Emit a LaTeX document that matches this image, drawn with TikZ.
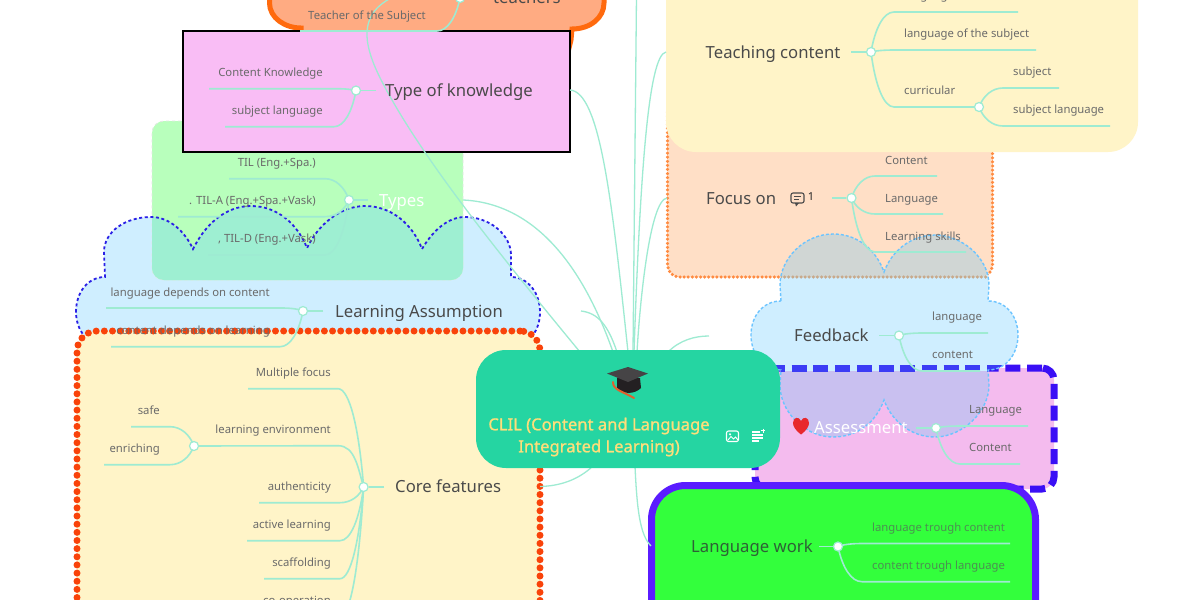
\documentclass[tikz,border=0pt]{standalone}
\usepackage{fontspec}
\setmainfont{Noto Sans}
\newfontfamily\rootf[FakeBold=1]{Noto Sans}
\usetikzlibrary{calc}
\pgfdeclarelayer{dots}
\pgfsetlayers{main,dots}
\definecolor{teal}{HTML}{9EEBD2}
\definecolor{rootc}{HTML}{25D5A2}
\definecolor{roott}{HTML}{FFDE7A}
\definecolor{cream}{HTML}{FFF4C8}
\definecolor{pinkk}{HTML}{F9BDF5}
\definecolor{pinka}{HTML}{F4BBEE}
\definecolor{peach}{HTML}{FFDFC6}
\definecolor{cloudb}{HTML}{CFEEFF}
\definecolor{gtitle}{HTML}{4A4A4A}
\definecolor{gitem}{HTML}{6A6A6A}
\definecolor{tfill}{HTML}{FFAB82}
\definecolor{tedge}{HTML}{FF6A0E}
\definecolor{tygreen}{HTML}{B8FFBC}
\definecolor{tyedge}{HTML}{E2E8E2}
\definecolor{tyover}{HTML}{9EEFD2}
\definecolor{clblue}{HTML}{2A1FE6}
\definecolor{corered}{HTML}{F9430A}
\definecolor{focusedge}{HTML}{FF8C42}
\definecolor{assedge}{HTML}{3A0FF5}
\definecolor{fover}{HTML}{D0D6D4}
\definecolor{fedgeover}{HTML}{C8AA8C}
\definecolor{aover}{HTML}{C9C0F0}
\definecolor{aedgeover}{HTML}{3C3CF5}
\definecolor{fbedge}{HTML}{6CC4FF}
\definecolor{lwgreen}{HTML}{33FF3C}
\definecolor{lwedge}{HTML}{5A1CFF}
\definecolor{lwitem}{HTML}{4C8F52}
\definecolor{lwtitle}{HTML}{2E6136}
\definecolor{heartc}{HTML}{E8282D}
\definecolor{hatd}{HTML}{232022}
\definecolor{hatt}{HTML}{464446}
\definecolor{hato}{HTML}{E15F2D}
\tikzset{
  conn/.style={draw=teal,line width=1.3pt},
  branch/.style={draw=teal,line width=1.6pt},
  dotc/.style={circle,draw=teal,fill=white,line width=1.2pt,inner sep=0pt,minimum size=9pt},
  title/.style={font=\fontsize{16.7}{20}\selectfont,text=gtitle,inner sep=0pt,anchor=west,text height=16pt,text depth=4pt},
  item/.style={font=\fontsize{11.3}{14}\selectfont,text=gitem,inner sep=0pt,text height=11pt,text depth=3pt},
  iteml/.style={item,anchor=west},
  itemr/.style={item,anchor=east},
  box/.style={rectangle,inner sep=0pt,outer sep=0pt,anchor=north west},
}
% a white junction circle, kept above the branches
\newcommand\junction[3]{\begin{pgfonlayer}{dots}\node[dotc] (#1) at (#2,#3) {};\end{pgfonlayer}}
% #1 circle node, #2 x where the curve ends, #3 y, #4 x of the free end
\newcommand\branchto[4]{%
  \coordinate (bB) at (#2,#3);
  \coordinate (eE) at (#4,#3);
  \coordinate (pa) at ($(#1)!.18!(bB)$);
  \coordinate (pb) at ($(#1)!.6!(bB)$);
  \coordinate (pc) at ($(#1)!.55!(bB)$);
  \draw[branch] (#1.center) .. controls (pa |- pb) and (pc |- bB) .. (bB) -- (eE);
}
\def\cloudL{(76,312) .. controls (76,292) and (88,277) .. (105,277) -- (104,252)
  .. controls (104,232) and (125,217) .. (151,217)
  .. controls (170,217) and (185,232) .. (193,249)
  .. controls (205,225) and (225,206) .. (251,206)
  .. controls (278,206) and (298,225) .. (307,248)
  .. controls (318,225) and (340,206) .. (365,206)
  .. controls (392,206) and (413,225) .. (422,249)
  .. controls (432,232) and (447,217) .. (465,217)
  .. controls (490,217) and (511,235) .. (511,255) -- (511,277)
  .. controls (528,277) and (540,293) .. (540,312)
  .. controls (540,330) and (530,345) .. (511,346) -- (511,380) -- (105,380) -- (105,346)
  .. controls (88,346) and (76,330) .. (76,312) -- cycle}
\def\cloudF{(781,301) -- (780,285)
  .. controls (780,258) and (805,234) .. (833,234)
  .. controls (858,234) and (876,250) .. (884,272)
  .. controls (892,250) and (912,235) .. (935,235)
  .. controls (962,235) and (989,258) .. (989,285) -- (988,301)
  .. controls (1006,301) and (1018,316) .. (1018,335)
  .. controls (1018,354) and (1006,370) .. (988,370) -- (989,385)
  .. controls (989,412) and (962,437) .. (935,437)
  .. controls (912,437) and (892,422) .. (884,400)
  .. controls (876,422) and (858,437) .. (833,437)
  .. controls (805,437) and (780,412) .. (780,385) -- (781,370)
  .. controls (763,370) and (751,354) .. (751,335)
  .. controls (751,316) and (763,301) .. (781,301) -- cycle}
\begin{document}
\begin{tikzpicture}[x=1pt,y=-1pt]
\useasboundingbox (0,0) rectangle (1200,600);
\clip (0,0) rectangle (1200,600);
\fill[white] (0,0) rectangle (1200,600);

% ---- teachers cloud
\path[fill=tfill,draw=tedge,line width=5pt]
  (269.5,-10) -- (269.5,3) .. controls (269.5,18) and (285,28) .. (301,28) -- (301,60) -- (566,60) -- (571,40) -- (572,29)
  .. controls (590,29) and (604,18) .. (604,3) -- (604,-10) -- cycle;

% ---- learning assumption cloud and types box
\path[fill=cloudb] \cloudL;
\node[box,fill=tygreen,minimum width=311pt,minimum height=159pt,rounded corners=12pt,draw=tyedge,dashed,line width=.9pt] (typesbox) at (152,121) {};
\begin{scope}
  \clip \cloudL;
  \fill[tyover,rounded corners=12pt] (152,121) rectangle (463,280);
\end{scope}
\path[draw=clblue,line width=1.8pt,dash pattern=on 3pt off 2.6pt] \cloudL;

% ---- core features
\node[box,fill=cream,minimum width=463pt,minimum height=310pt,rounded corners=20pt,draw=corered,line width=7pt,line cap=round,dash pattern=on 0pt off 8.15pt] (corebox) at (77,331) {};

% ---- type of knowledge
\node[box,fill=pinkk,minimum width=387pt,minimum height=121pt,draw=black,line width=2pt] (kbox) at (183,31) {};

% ---- focus on, assessment, feedback
\node[box,fill=peach,minimum width=325pt,minimum height=177pt,rounded corners=12pt,draw=focusedge,line width=3.5pt,line cap=round,dash pattern=on 0pt off 4.1pt] (focusbox) at (667.5,100) {};
\node[box,fill=pinka,minimum width=299pt,minimum height=121pt,rounded corners=12pt,draw=assedge,line width=7pt,dash pattern=on 15pt off 6.7pt] (assessbox) at (755,368) {};
\path[fill=cloudb] \cloudF;
\begin{scope}
  \clip \cloudF;
  \fill[fover,rounded corners=12pt] (667.5,100) rectangle (992.5,277);
  \draw[fedgeover,line width=3.5pt,line cap=round,dash pattern=on 0pt off 4.1pt] (760,277) -- (1000,277);
  \fill[aover] (755,371) rectangle (1054,489);
  \draw[aedgeover,line width=7pt,dash pattern=on 15pt off 6.7pt] (770,368) -- (1040,368);
\end{scope}
\path[draw=fbedge,line width=1.4pt,dash pattern=on 3pt off 2pt] \cloudF;

% ---- teaching content
\node[box,fill=cream,minimum width=472pt,minimum height=200pt,rounded corners=30pt] (teachbox) at (666,-48) {};

% ---- language work
\node[box,fill=lwgreen,minimum width=384pt,minimum height=170pt,rounded corners=34pt,draw=lwedge,line width=7pt] (langbox) at (651.5,485.5) {};

% ---- root connectors
\coordinate (r1) at (580,352);
\coordinate (r2) at (613,352);
\coordinate (r3) at (617,352);
\coordinate (r4) at (628,352);
\coordinate (r5) at (633,352);
\coordinate (r6) at (634,352);
\coordinate (r7) at (637,352);
\coordinate (r8) at (668,352);
\coordinate (r9) at (593,466);
\coordinate (r10) at (635,466);
\coordinate (tEnd) at (393,-3);
\coordinate (topEnd) at (636.5,-5);
\coordinate (stubL) at (581,311);
\coordinate (stubF) at (709,336);
\coordinate (endT) at (666,52);
\coordinate (endF) at (667,198);
\coordinate (endC) at (540,486.5);
\coordinate (endW) at (651,546);
\coordinate (endK) at (570,90);
\coordinate (endY) at (463,200);
\draw[conn] (r1) .. controls (500,255) and (432,170) .. (392,100) .. controls (368,58) and (350,18) .. (tEnd);
\draw[conn] (endK) .. controls (600,92) and (612,200) .. (r4);
\draw[conn] (endY) .. controls (530,203) and (580,258) .. (r2);
\draw[conn] (stubL) .. controls (598,313) and (608,325) .. (r3);
\draw[conn] (topEnd) -- (r5);
\draw[conn] (endT) .. controls (648,55) and (640,180) .. (r6);
\draw[conn] (endF) .. controls (650,200) and (640,300) .. (r7);
\draw[conn] (stubF) .. controls (695,336) and (680,340) .. (r8);
\draw[conn] (endC) .. controls (560,486) and (578,480) .. (r9);
\draw[conn] (r10) .. controls (637,510) and (640,535) .. (endW);

% ---- teachers content
\junction{cT}{460}{-2}
\branchto{cT}{437}{31}{300}
\node[itemr] (tT1) at (426,15) {Teacher of the Subject};
\node[title,anchor=west] (tTeach) at (493,-3) {teachers};

% ---- type of knowledge content
\junction{cK}{356}{90.5}
\coordinate (sK) at (376,90.5);
\draw[branch] (sK) -- (cK);
\branchto{cK}{336}{88.7}{209}
\branchto{cK}{334}{126.7}{225}
\node[itemr] at (323,72) {Content Knowledge};
\node[itemr] at (323,110) {subject language};
\node[title] (tK) at (385,90) {Type of knowledge};

% ---- types content
\junction{cY}{349}{200}
\coordinate (sY) at (368,200);
\draw[branch] (sY) -- (cY);
\branchto{cY}{325}{178.7}{229}
\branchto{cY}{325}{216.7}{178}
\branchto{cY}{325}{255}{208}
\node[itemr] at (316,162) {TIL (Eng.+Spa.)};
\node[itemr] at (316,200) {. TIL-A (Eng.+Spa.+Vask)};
\node[itemr] at (316,238) {, TIL-D (Eng.+Vask)};
\node[title,text=white] (tY) at (379,200) {Types};

% ---- learning assumption content
\junction{cA}{303}{311}
\coordinate (sA) at (323,311);
\draw[branch] (sA) -- (cA);
\branchto{cA}{282}{308}{106}
\branchto{cA}{280}{346.7}{111}
\node[itemr] at (270,292) {language depends on content};
\node[itemr] at (270,330) {content depends on learning};
\node[title] (tA) at (335,311) {Learning Assumption};

% ---- core features content
\junction{cC}{363.6}{487}
\coordinate (sC) at (384,487);
\draw[branch] (sC) -- (cC);
\junction{cE}{194}{446}
\branchto{cC}{338}{388.7}{248}
\coordinate (bE) at (338,445.7);
\draw[branch] (cC.center) .. controls (358,468) and (355,445.7) .. (bE) -- (cE);
\branchto{cC}{340}{502.7}{259}
\branchto{cC}{340}{540.7}{247}
\branchto{cC}{340}{578.7}{264}
\branchto{cC}{340}{616.7}{250}
\branchto{cE}{170}{426.7}{131}
\branchto{cE}{170}{464.7}{104}
\node[itemr] at (331,372) {Multiple focus};
\node[itemr] at (331,429) {learning environment};
\node[itemr] at (331,486) {authenticity};
\node[itemr] at (331,524) {active learning};
\node[itemr] at (331,562) {scaffolding};
\node[itemr] at (331,600) {co-operation};
\node[itemr] at (160,410) {safe};
\node[itemr] at (160,448) {enriching};
\node[title] (tC) at (395,486) {Core features};

% ---- teaching content
\junction{cH}{871}{52}
\coordinate (sH) at (851,52);
\draw[branch] (sH) -- (cH);
\branchto{cH}{894}{12}{1018}
\branchto{cH}{894}{50}{1036}
\branchto{cH}{894}{107}{979}
\junction{cU}{979}{107}
\branchto{cU}{1003}{88}{1059}
\branchto{cU}{1003}{126}{1110}
\node[iteml] at (904,-5) {language};
\node[iteml] at (904,33) {language of the subject};
\node[iteml] at (904,90) {curricular};
\node[iteml] at (1013,71) {subject};
\node[iteml] at (1013,109) {subject language};
\node[title] (tH) at (705.5,52) {Teaching content};

% ---- focus content
\junction{cF}{851.5}{198}
\coordinate (sF) at (832,198);
\draw[branch] (sF) -- (cF);
\branchto{cF}{875}{176}{937}
\branchto{cF}{875}{214}{943}
\branchto{cF}{875}{252}{966}
\node[iteml] at (885,160) {Content};
\node[iteml] at (885,198) {Language};
\node[iteml] at (885,236) {Learning skills};
\node[title] (tF) at (706,198) {Focus on};
\draw[gtitle,line width=1.1pt,rounded corners=2pt] (791,193) rectangle (804,203);
\fill[gtitle] (795,203) -- (799,203) -- (796,206.5) -- cycle;
\draw[gtitle,line width=.9pt] (794,196.5) -- (801,196.5) (794,199.5) -- (799,199.5);
\node[font=\fontsize{11}{12}\selectfont,text=black!85,inner sep=0pt] (tFn) at (811,197) {1};

% ---- feedback content
\junction{cB}{899}{335.5}
\coordinate (sB) at (879,335.5);
\draw[branch] (sB) -- (cB);
\branchto{cB}{922}{333}{988}
\branchto{cB}{922}{371}{980}
\node[iteml] at (932,316) {language};
\node[iteml] at (932,354) {content};
\node[title] (tB) at (794,335) {Feedback};

% ---- assessment content
\junction{cS}{936}{428}
\coordinate (sS) at (916,428);
\draw[branch] (sS) -- (cS);
\branchto{cS}{960}{426}{1028}
\branchto{cS}{960}{464}{1020}
\node[iteml] at (969,409) {Language};
\node[iteml] at (969,447) {Content};
\node[title,text=white] (tS) at (814,427.5) {Assessment};
\fill[heartc] (801,434.5) .. controls (795,430) and (793,426) .. (793,423) .. controls (793,417) and (799,416) .. (801,421) .. controls (803,416) and (809,417) .. (809,423) .. controls (809,426) and (807,430) .. (801,434.5) -- cycle;

% ---- language work content
\junction{cW}{838}{546.5}
\coordinate (sW) at (819,546.5);
\draw[branch] (sW) -- (cW);
\branchto{cW}{862}{543.5}{1010}
\branchto{cW}{862}{581.7}{1010}
\node[iteml,text=lwitem] at (872,527) {language trough content};
\node[iteml,text=lwitem] at (872,565) {content trough language};
\node[title,text=lwtitle] (tW) at (691,546) {Language work};

% ---- root node
\node[box,fill=rootc,minimum width=304pt,minimum height=118pt,rounded corners=30pt] (root) at (476,350) {};
\node[font=\rootf\fontsize{16.6}{22}\selectfont,text=roott,align=center,inner sep=0pt] (rootT) at (599,437) {CLIL (Content and Language\\Integrated Learning)};
% hat
\fill[hatd] (617,378) -- (640,378) -- (641,388) .. controls (634,395) and (622,394) .. (617,388) -- cycle;
\fill[hatt] (607,373.5) -- (628,367) -- (648,373.5) -- (628,382) -- cycle;
\draw[hato,line width=2pt,line cap=round] (613,382) .. controls (613,390) and (622,391) .. (634,398);
% image and add-note icons
\draw[white,line width=1.1pt,rounded corners=2pt] (726.5,431) rectangle (738.5,441.5);
\draw[white,line width=.9pt] (728,440) -- (731,436.5) -- (733.5,439) -- (735.5,437) -- (738,440);
\fill[white] (730,434.3) circle (1.2pt);
\draw[white,line width=1.1pt] (752,432) -- (760,432) (752,435) -- (763,435) (752,438) -- (763,438) (752,441) -- (759,441);
\draw[white,line width=.9pt] (763,428.5) -- (763,432.5) (761,430.5) -- (765,430.5);
\end{tikzpicture}
\end{document}
